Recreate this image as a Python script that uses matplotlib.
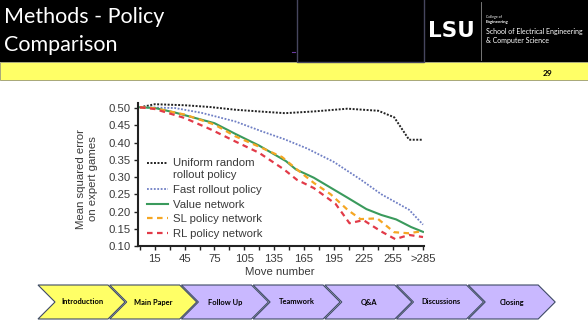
import matplotlib
matplotlib.use("Agg")
import matplotlib.pyplot as plt
import matplotlib.patches as patches
from matplotlib.legend_handler import HandlerLine2D

# Values (move number -> mean squared error)
moves_uniform = [0, 15, 45, 70, 96, 120, 146, 175, 209, 240, 256, 271, 285]
mse_uniform = [0.502, 0.511, 0.508, 0.503, 0.495, 0.490, 0.485, 0.490, 0.498, 0.492, 0.473, 0.408, 0.408]

moves_fast = [0, 35, 62, 96, 123, 145, 168, 195, 222, 243, 258, 271, 285]
mse_fast = [0.502, 0.500, 0.486, 0.461, 0.432, 0.410, 0.383, 0.344, 0.293, 0.250, 0.226, 0.205, 0.162]

moves_value = [0, 15, 35, 75, 96, 120, 147, 157, 175, 209, 228, 243, 258, 273, 285]
mse_value = [0.502, 0.500, 0.487, 0.456, 0.425, 0.391, 0.346, 0.322, 0.298, 0.240, 0.207, 0.190, 0.177, 0.155, 0.141]

moves_sl = [0, 15, 45, 75, 96, 123, 143, 158, 175, 192, 209, 222, 239, 256, 270, 285]
mse_sl = [0.502, 0.499, 0.481, 0.452, 0.418, 0.384, 0.358, 0.322, 0.283, 0.250, 0.205, 0.178, 0.180, 0.140, 0.137, 0.143]

moves_rl = [0, 15, 45, 72, 96, 120, 145, 158, 175, 197, 211, 225, 243, 257, 271, 285]
mse_rl = [0.502, 0.497, 0.471, 0.437, 0.403, 0.370, 0.322, 0.292, 0.268, 0.222, 0.166, 0.175, 0.142, 0.120, 0.132, 0.126]

series_labels = ["Uniform random\nrollout policy", "Fast rollout policy", "Value network",
                 "SL policy network", "RL policy network"]

x_ticks = [15, 45, 75, 105, 135, 165, 195, 225, 255, 285]
x_ticklabels = ["15", "45", "75", "105", "135", "165", "195", "225", "255", ">285"]
y_ticks = [0.10, 0.15, 0.20, 0.25, 0.30, 0.35, 0.40, 0.45, 0.50]

nav_labels = ["Introduction", "Main Paper", "Follow Up", "Teamwork", "Q&A", "Discussions", "Closing"]
nav_done = 2  # first two sections highlighted in yellow

W, H = 588, 332
fig = plt.figure(figsize=(W / 100, H / 100), dpi=100)

# slide background drawn in pixel coordinates
bg = fig.add_axes([0, 0, 1, 1])
bg.set_xlim(0, W)
bg.set_ylim(H, 0)
bg.axis("off")

bg.add_patch(patches.Rectangle((0, 0), W, 62, facecolor="black", edgecolor="none"))
bg.add_patch(patches.Rectangle((0, 62), W, 18, facecolor="#ffff66", edgecolor="#9a9a70", linewidth=0.6))
bg.add_patch(patches.Rectangle((297, -2), 127, 64, facecolor="none", edgecolor="#46465e", linewidth=1))
bg.plot([292, 295], [52, 52], color="#6a3aa0", linewidth=0.8)
bg.plot([481, 481], [2, 60], color="#8a8a8a", linewidth=0.6)

bg.text(4, 17, "Methods - Policy", color="white", fontsize=15.5, family="Lato", va="center", ha="left")
bg.text(4, 45, "Comparison", color="white", fontsize=15.5, family="Lato", va="center", ha="left")
bg.text(451, 31, "LSU", color="white", fontsize=15.5, fontweight="bold", family="DejaVu Sans",
        va="center", ha="center")
bg.text(486, 17, "College of", color="white", fontsize=2.6, family="Lato", va="center")
bg.text(486, 22.5, "Engineering", color="white", fontsize=3.2, fontweight="bold", family="Lato", va="center")
bg.text(486, 31.5, "School of Electrical Engineering", color="white", fontsize=5, family="Lato", va="center")
bg.text(486, 40.5, "& Computer Science", color="white", fontsize=5, family="Lato", va="center")
bg.text(548, 73, "29", color="black", fontsize=6, fontweight="bold", family="Lato", va="center", ha="center")

# chevron navigation bar
top, bot, depth, body = 285, 319, 17, 70
mid = (top + bot) / 2
for i, label in enumerate(nav_labels):
    x0 = 38 + i * 71.7
    pts = [(x0, top), (x0 + body, top), (x0 + body + depth, mid),
           (x0 + body, bot), (x0, bot), (x0 + depth, mid)]
    fc = "#ffff66" if i < nav_done else "#c9b8ff"
    bg.add_patch(patches.Polygon(pts, closed=True, facecolor=fc, edgecolor="#3e4a66", linewidth=0.8))
    bg.text(x0 + (body + depth) / 2 + 0.5, mid, label, fontsize=5.4, fontweight="bold",
            family="Lato", ha="center", va="center", color="black")

text_color = "#3a3a3a"
plt.rcParams["font.family"] = "Liberation Sans"

bg.text(87, 179, "Mean squared error\non expert games", rotation=90, ha="center", va="center",
        fontsize=8.2, color=text_color, linespacing=1.15, family="Liberation Sans")
bg.text(280, 272, "Move number", ha="center", va="center", fontsize=8.2, color=text_color,
        family="Liberation Sans")

# the chart itself
ax = fig.add_axes([138 / W, 1 - 246 / H, 286 / W, 143 / H])
ax.patch.set_alpha(0)

ax.plot(moves_uniform, mse_uniform, color="#222222", linestyle=(0, (1, 0.8)), linewidth=1.4,
        label=series_labels[0])
ax.plot(moves_fast, mse_fast, color="#6f7fc4", linestyle=(0, (1, 0.9)), linewidth=1.3,
        label=series_labels[1])
ax.plot(moves_value, mse_value, color="#3a9a5c", linestyle="-", linewidth=1.5,
        label=series_labels[2])
ax.plot(moves_sl, mse_sl, color="#f5a623", linestyle=(0, (2.5, 2)), linewidth=1.6,
        label=series_labels[3])
ax.plot(moves_rl, mse_rl, color="#e23a48", linestyle=(0, (2.5, 2)), linewidth=1.6,
        label=series_labels[4])

ax.set_xlim(-2, 286)
ax.set_ylim(0.10, 0.5145)
ax.set_xticks(x_ticks)
ax.set_xticklabels(x_ticklabels)
ax.set_xticks([0, 30, 60, 90, 120, 150, 180, 210, 240, 270], minor=True)
ax.set_yticks(y_ticks)
ax.set_yticklabels([f"{v:.2f}" for v in y_ticks])
for side in ("top", "right"):
    ax.spines[side].set_visible(False)
for side in ("left", "bottom"):
    ax.spines[side].set_linewidth(1.5)
    ax.spines[side].set_color("#222222")
ax.tick_params(which="both", direction="out", length=3, width=1, color="#222222",
               labelsize=8.2, labelcolor=text_color, pad=2.5)


# put the handle of the two-line entry next to its first line
def raise_handle(legend_line, orig_line):
    legend_line.update_from(orig_line)
    legend_line.set_ydata(legend_line.get_ydata() + 4.6)


handles = ax.get_lines()
ax.legend(handles=handles, loc="lower left", bbox_to_anchor=(0.004, -0.008), frameon=False,
          fontsize=8.2, handlelength=1.8, handletextpad=0.5, labelspacing=0.42, borderpad=0.2,
          labelcolor=text_color,
          handler_map={handles[0]: HandlerLine2D(update_func=raise_handle)})

fig.savefig("out.png", dpi=100)
